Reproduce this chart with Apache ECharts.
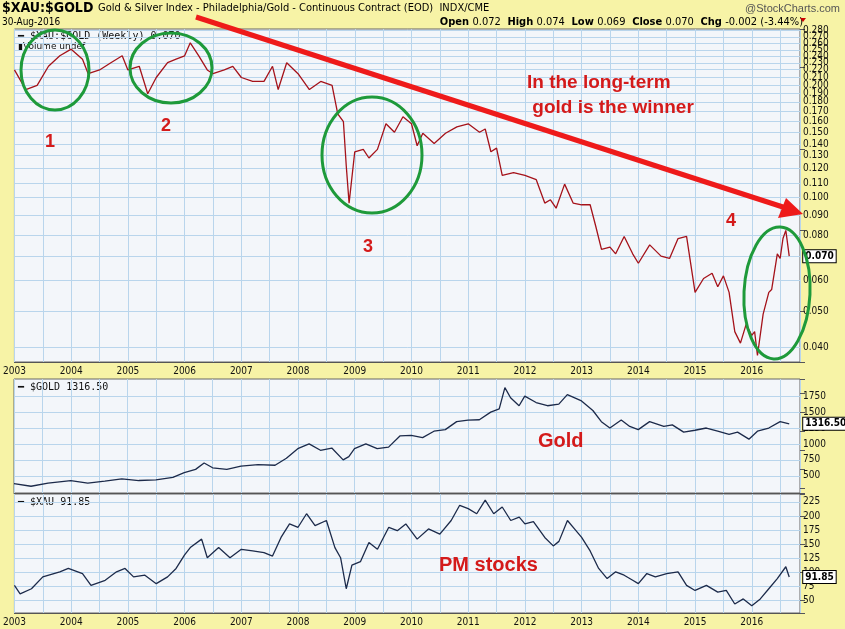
<!DOCTYPE html>
<html><head><meta charset="utf-8">
<script src="https://cdn.jsdelivr.net/npm/echarts@6/dist/echarts.min.js"></script>
<style>html,body{margin:0;padding:0;background:#f7f3a6}#c{width:845px;height:629px}</style>
</head><body><div id="c"></div>
<script>
const ratioDates=[2003.0,2003.2,2003.4,2003.6,2003.8,2004.0,2004.2,2004.3,2004.5,2004.7,2004.9,2005.0,2005.2,2005.35,2005.5,2005.7,2005.85,2006.0,2006.1,2006.25,2006.4,2006.5,2006.7,2006.85,2007.0,2007.2,2007.4,2007.55,2007.65,2007.8,2008.0,2008.2,2008.4,2008.6,2008.7,2008.8,2008.85,2008.9,2009.0,2009.15,2009.25,2009.4,2009.55,2009.7,2009.85,2010.0,2010.1,2010.2,2010.4,2010.6,2010.8,2011.0,2011.2,2011.3,2011.4,2011.5,2011.6,2011.8,2012.0,2012.2,2012.35,2012.45,2012.55,2012.7,2012.85,2013.0,2013.15,2013.25,2013.35,2013.5,2013.6,2013.75,2013.9,2014.0,2014.2,2014.4,2014.55,2014.7,2014.85,2015.0,2015.15,2015.3,2015.4,2015.5,2015.6,2015.7,2015.8,2015.9,2016.0,2016.05,2016.1,2016.2,2016.3,2016.35,2016.45,2016.5,2016.55,2016.6,2016.66];
const ratioVals=[0.220,0.195,0.200,0.225,0.240,0.250,0.235,0.215,0.220,0.230,0.240,0.220,0.225,0.190,0.210,0.230,0.235,0.240,0.260,0.240,0.220,0.215,0.220,0.225,0.210,0.205,0.205,0.225,0.195,0.230,0.215,0.195,0.205,0.200,0.168,0.160,0.122,0.097,0.133,0.135,0.128,0.135,0.158,0.150,0.165,0.158,0.138,0.149,0.140,0.149,0.155,0.158,0.150,0.153,0.133,0.136,0.115,0.117,0.115,0.112,0.097,0.099,0.094,0.109,0.097,0.096,0.096,0.084,0.073,0.074,0.071,0.079,0.071,0.067,0.075,0.070,0.069,0.078,0.079,0.056,0.061,0.063,0.058,0.062,0.056,0.044,0.041,0.046,0.043,0.044,0.038,0.049,0.056,0.057,0.071,0.069,0.078,0.082,0.070];
const goldDates=[2003.0,2003.3,2003.6,2004.0,2004.3,2004.6,2004.9,2005.2,2005.5,2005.8,2006.0,2006.2,2006.35,2006.5,2006.75,2007.0,2007.3,2007.6,2007.8,2008.0,2008.2,2008.4,2008.6,2008.8,2008.9,2009.0,2009.2,2009.4,2009.6,2009.8,2010.0,2010.2,2010.4,2010.6,2010.8,2011.0,2011.2,2011.4,2011.55,2011.65,2011.75,2011.9,2012.0,2012.2,2012.4,2012.6,2012.75,2013.0,2013.2,2013.35,2013.5,2013.7,2013.85,2014.0,2014.2,2014.45,2014.6,2014.8,2015.0,2015.2,2015.4,2015.6,2015.75,2015.95,2016.1,2016.3,2016.5,2016.66];
const goldVals=[375,335,385,425,385,415,450,425,435,475,550,600,700,625,600,650,675,665,775,925,1000,900,935,750,800,925,1000,925,950,1125,1135,1100,1200,1225,1350,1375,1380,1500,1550,1885,1725,1600,1750,1650,1600,1625,1775,1675,1525,1350,1250,1375,1275,1225,1350,1275,1300,1185,1215,1250,1200,1150,1185,1075,1200,1250,1350,1316.5];
const xauDates=[2003.0,2003.1,2003.3,2003.5,2003.8,2003.95,2004.2,2004.35,2004.6,2004.8,2004.95,2005.1,2005.3,2005.5,2005.7,2005.85,2006.0,2006.1,2006.3,2006.4,2006.6,2006.8,2007.0,2007.2,2007.4,2007.55,2007.7,2007.85,2008.0,2008.15,2008.3,2008.5,2008.65,2008.75,2008.85,2008.95,2009.1,2009.25,2009.4,2009.6,2009.75,2009.9,2010.1,2010.3,2010.5,2010.7,2010.85,2011.0,2011.15,2011.3,2011.45,2011.6,2011.75,2011.9,2012.0,2012.15,2012.35,2012.5,2012.6,2012.75,2012.9,2013.0,2013.15,2013.3,2013.45,2013.6,2013.75,2013.9,2014.0,2014.15,2014.3,2014.5,2014.7,2014.85,2015.0,2015.2,2015.4,2015.55,2015.7,2015.85,2016.0,2016.15,2016.3,2016.45,2016.6,2016.66];
const xauVals=[77,62,71,92,101,107,98,77,86,101,107,92,95,80,92,107,131,144,159,126,144,126,141,138,135,129,162,186,180,204,183,192,144,126,71,113,119,153,141,180,174,186,159,177,168,192,219,213,204,228,204,216,192,198,186,190,162,147,155,192,174,162,138,107,89,101,95,86,80,98,92,98,101,77,68,77,65,68,44,53,41,53,71,89,110,91.85];
const ratioTicks=[0.280,0.270,0.260,0.250,0.240,0.230,0.220,0.210,0.200,0.190,0.180,0.170,0.160,0.150,0.140,0.130,0.120,0.110,0.100,0.090,0.080,0.070,0.060,0.050,0.040];
const goldTicks=[500,750,1000,1250,1500,1750];
const xauTicks=[50,75,100,125,150,175,200,225];

const GRIDC='#b9d5ec', PLOT='#f3f6fa', NF='DejaVu Sans Condensed, Liberation Sans';
const ch=echarts.init(document.getElementById('c'));
function hlines(ticks,fmt,isLog){
  return {silent:true,symbol:'none',animation:false,
    lineStyle:{color:GRIDC,type:'solid',width:1},
    label:{show:true,position:'end',distance:3,color:'#111',fontSize:10,fontFamily:NF,formatter:p=>fmt(p)},
    data:ticks.map(t=>({yAxis:isLog?Math.log(t):t,name:isLog?t.toFixed(3):String(t)}))};
}
const xBase={type:'value',min:2003,max:2016.85,interval:1,
  axisLine:{show:true,lineStyle:{color:'#555'}},axisTick:{show:false},
  splitLine:{show:true,lineStyle:{color:GRIDC}},
  minorTick:{show:false,splitNumber:2},minorSplitLine:{show:true,lineStyle:{color:GRIDC}},
  axisLabel:{show:false}};
const xLab={show:true,color:'#111',fontSize:10,fontFamily:NF,margin:4,showMaxLabel:false,formatter:v=>Number.isInteger(v)?String(v):''};
const endLab=t=>({show:true,formatter:t,offset:[6,0],color:'#000',fontWeight:'bold',fontSize:10,fontFamily:NF,backgroundColor:'#fff',borderColor:'#000',borderWidth:1,padding:[1,2]});
const opt={
  animation:false,backgroundColor:'#f7f3a6',
  grid:[
    {left:14,right:45,top:29,height:333,backgroundColor:PLOT,show:true,borderColor:'#666'},
    {left:14,right:45,top:379,height:114,backgroundColor:PLOT,show:true,borderColor:'#666'},
    {left:14,right:45,top:494,height:119,backgroundColor:PLOT,show:true,borderColor:'#666'}],
  xAxis:[Object.assign({},xBase,{gridIndex:0,axisLabel:xLab}),
         Object.assign({},xBase,{gridIndex:1}),
         Object.assign({},xBase,{gridIndex:2,axisLabel:xLab})],
  yAxis:[
    {gridIndex:0,type:'value',min:Math.log(0.0365),max:Math.log(0.283),position:'right',axisLabel:{show:false},splitLine:{show:false},axisLine:{show:false}},
    {gridIndex:1,type:'value',min:229,max:2020,position:'right',axisLabel:{show:false},splitLine:{show:false},axisLine:{show:false}},
    {gridIndex:2,type:'value',min:28,max:239,position:'right',axisLabel:{show:false},splitLine:{show:false},axisLine:{show:false}}],
  series:[
    {type:'line',xAxisIndex:0,yAxisIndex:0,showSymbol:false,data:ratioDates.map((d,i)=>[d,Math.log(ratioVals[i])]),
     lineStyle:{color:'#a5121a',width:1.3},z:5,endLabel:endLab('0.070'),
     markLine:hlines(ratioTicks,p=>p.name,true)},
    {type:'line',xAxisIndex:1,yAxisIndex:1,showSymbol:false,data:goldDates.map((d,i)=>[d,goldVals[i]]),
     lineStyle:{color:'#1c2a4a',width:1.3},z:5,endLabel:endLab('1316.50'),
     markLine:hlines(goldTicks,p=>p.name,false)},
    {type:'line',xAxisIndex:2,yAxisIndex:2,showSymbol:false,data:xauDates.map((d,i)=>[d,xauVals[i]]),
     lineStyle:{color:'#1c2a4a',width:1.3},z:5,endLabel:endLab('91.85'),
     markLine:hlines(xauTicks,p=>p.name,false)}
  ],
  graphic:[
    {type:'text',left:2,top:1,style:{text:'$XAU:$GOLD',font:'bold 14px DejaVu Sans Condensed',fill:'#000'}},
    {type:'text',left:98,top:3,style:{text:'Gold & Silver Index - Philadelphia/Gold - Continuous Contract (EOD)  INDX/CME',font:'11px DejaVu Sans Condensed',fill:'#000'}},
    {type:'text',right:5,top:3,style:{text:'@StockCharts.com',font:'11px Liberation Sans',fill:'#555'}},
    {type:'text',left:2,top:17,style:{text:'30-Aug-2016',font:'10px DejaVu Sans Condensed',fill:'#000'}},
    {type:'text',right:42,top:16,style:{rich:{b:{font:'bold 11px DejaVu Sans Condensed',fill:'#000'},n:{font:'11px DejaVu Sans Condensed',fill:'#000'}},text:'{b|Open} {n|0.072}  {b|High} {n|0.074}  {b|Low} {n|0.069}  {b|Close} {n|0.070}  {b|Chg} {n|-0.002 (-3.44%)}'}},
    {type:'polygon',shape:{points:[[806,18],[800,18],[803,22]]},style:{fill:'#c00'}},
    {type:'text',left:18,top:31,style:{text:'━ $XAU:$GOLD (Weekly) 0.070',font:'10px DejaVu Sans Mono',fill:'#111'}},
    {type:'text',left:18,top:42,style:{text:'▮Volume undef',font:'9px DejaVu Sans',fill:'#111'}},
    {type:'text',left:18,top:382,style:{text:'━ $GOLD 1316.50',font:'10px DejaVu Sans Mono',fill:'#111'}},
    {type:'text',left:18,top:497,style:{text:'━ $XAU 91.85',font:'10px DejaVu Sans Mono',fill:'#111'}},
    {type:'ellipse',shape:{cx:55,cy:70,rx:34,ry:40},style:{fill:'none',stroke:'#1e9a3a',lineWidth:3},z:10},
    {type:'ellipse',shape:{cx:171,cy:68,rx:41,ry:35},style:{fill:'none',stroke:'#1e9a3a',lineWidth:3},z:10},
    {type:'ellipse',shape:{cx:372,cy:155,rx:50,ry:58},style:{fill:'none',stroke:'#1e9a3a',lineWidth:3},z:10},
    {type:'ellipse',x:777,y:293,rotation:-0.05,shape:{cx:0,cy:0,rx:33,ry:66},style:{fill:'none',stroke:'#1e9a3a',lineWidth:3},z:10},
    {type:'line',shape:{x1:196,y1:17,x2:786,y2:208},style:{stroke:'#ee1a1a',lineWidth:5},z:11},
    {type:'polygon',shape:{points:[[803,214],[778,218],[786,198]]},style:{fill:'#ee1a1a'},z:11},
    {type:'text',left:45,top:133,style:{text:'1',font:'bold 18px Liberation Sans',fill:'#d41a1a'},z:11},
    {type:'text',left:161,top:117,style:{text:'2',font:'bold 18px Liberation Sans',fill:'#d41a1a'},z:11},
    {type:'text',left:363,top:238,style:{text:'3',font:'bold 18px Liberation Sans',fill:'#d41a1a'},z:11},
    {type:'text',left:726,top:212,style:{text:'4',font:'bold 18px Liberation Sans',fill:'#d41a1a'},z:11},
    {type:'text',left:527,top:70,style:{text:'In the long-term\n gold is the winner',font:'bold 19px Liberation Sans',lineHeight:25,fill:'#d41a1a'},z:11},
    {type:'text',left:538,top:431,style:{text:'Gold',font:'bold 20px Liberation Sans',fill:'#d41a1a'},z:11},
    {type:'text',left:439,top:555,style:{text:'PM stocks',font:'bold 20px Liberation Sans',fill:'#d41a1a'},z:11}
  ]
};
ch.setOption(opt);
</script></body></html>
